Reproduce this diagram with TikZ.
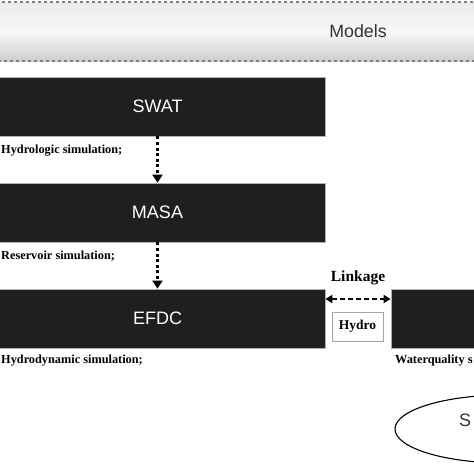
\documentclass[tikz,border=0pt]{standalone}
\usepackage{fontspec}
\setmainfont{Liberation Serif}
\setsansfont{Liberation Sans}
\usetikzlibrary{arrows.meta,shapes.geometric}

\tikzset{
  modelbox/.style={draw=gray!60, line width=0.8pt, fill=black!88, text=white,
    font=\sffamily\fontsize{18}{18}\selectfont, minimum width=335pt,
    minimum height=59pt, inner sep=0pt},
  simlabel/.style={anchor=west, inner sep=0pt,
    font=\bfseries\fontsize{12.3}{13}\selectfont},
  flow/.style={line width=2.8pt, dash pattern=on 3pt off 2.6pt,
    -{Triangle[length=8pt,width=10pt]}},
  linkarrow/.style={line width=2pt, dash pattern=on 5pt off 3pt,
    {Triangle[length=7pt,width=8pt]}-{Triangle[length=7pt,width=8pt]}},
}

\begin{document}
\begin{tikzpicture}[x=1pt,y=-1pt]
\useasboundingbox (0,0) rectangle (474,474);
\clip (0,0) rectangle (474,474);
% header band
\node[draw=gray, line width=2pt, dash pattern=on 3pt off 3pt,
  top color=gray!16, bottom color=gray!38, middle color=gray!6,
  minimum width=490pt, minimum height=59pt, inner sep=0pt] (band) at (237,31.5) {};
\node[font=\sffamily\fontsize{17.8}{18}\selectfont, text=black!80] (models) at (358,31) {Models};
% model chain
\node[modelbox] (swat) at (157.5,106.5) {SWAT};
\node[modelbox] (masa) at (157.5,212.5) {MASA};
\node[modelbox] (efdc) at (157.5,318.5) {EFDC};
\node[modelbox, minimum width=200pt] (wq) at (491,318.5) {};
\node[simlabel] (hydrol) at (1,151) {Hydrologic simulation;};
\node[simlabel] (reser) at (1,256) {Reservoir simulation;};
\node[simlabel] (hydrod) at (1,361) {Hydrodynamic simulation;};
\node[simlabel] (wqsim) at (395,361) {Waterquality s};
\draw[flow] (swat.south) -- (masa.north);
\draw[flow] (masa.south) -- (efdc.north);
% linkage
\draw[linkarrow] ([yshift=19.5pt]efdc.east) -- ([yshift=19.5pt]wq.west);
\node[font=\bfseries\fontsize{15.5}{16}\selectfont] (link) at (358,278) {Linkage};
\node[draw=gray!70, line width=0.8pt, fill=white, minimum width=51pt,
  minimum height=29pt, inner sep=0pt, font=\bfseries\fontsize{13.5}{14}\selectfont] (hydro) at (357.5,326.5) {Hydro};
% scenario
\node[draw, line width=1.1pt, ellipse, minimum width=220pt, minimum height=68pt] (scen) at (505,429) {};
\node[anchor=west, inner sep=0pt, font=\sffamily\fontsize{18}{18}\selectfont, text=black!80] (stext) at (459,420) {S};
\end{tikzpicture}
\end{document}
